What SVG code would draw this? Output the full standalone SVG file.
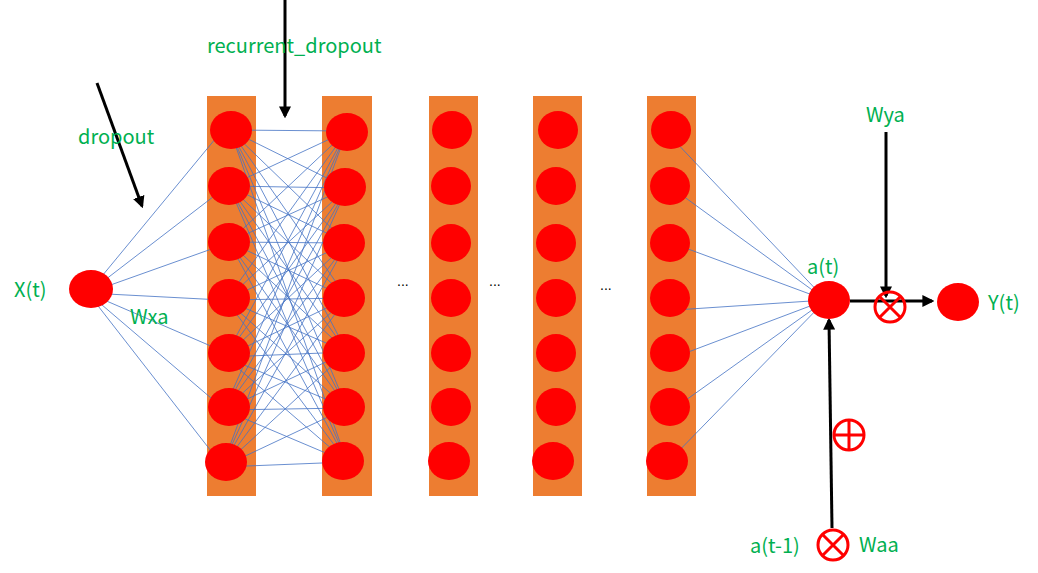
<svg xmlns="http://www.w3.org/2000/svg" width="1038" height="573" viewBox="0 0 1038 573">
<style>
.bar{fill:#ed7d31}
.n{fill:#ff0000}
.t{font-family:"Microsoft YaHei","Noto Sans CJK SC","Liberation Sans",sans-serif;font-size:20px;fill:#00b050}
.w{stroke:#4472c4;stroke-width:0.8;fill:none}
.k{stroke:#000;stroke-width:3;fill:none}
.op{fill:none;stroke:#ff0000;stroke-width:3}
</style>
<defs>
<marker id="ar" viewBox="0 0 10 10" refX="8" refY="5" markerWidth="4" markerHeight="4" orient="auto"><path d="M0,0L10,5L0,10z" fill="#000"/></marker>
</defs>
<rect class="bar" x="207" y="96" width="49" height="400"/>
<rect class="bar" x="322" y="96" width="50" height="400"/>
<rect class="bar" x="429" y="96" width="49" height="400"/>
<rect class="bar" x="533" y="96" width="49" height="400"/>
<rect class="bar" x="647" y="96" width="49" height="400"/>
<g id="connectors">
<g class="w">
<path d="M88,293L216,138M88,293L222,190M88,293L220,246M88,293L222,300M88,293L220,350M88,293L218,404M88,293L218,460"/>
<path d="M230,130L347,131M230,130L347,188M230,130L347,243M230,130L347,298M230,130L347,352M230,130L347,408M230,130L347,462
M229,186L347,131M229,186L347,188M229,186L347,243M229,186L347,298M229,186L347,352M229,186L347,408M229,186L347,462
M229,242L347,131M229,242L347,188M229,242L347,243M229,242L347,298M229,242L347,352M229,242L347,408M229,242L347,462
M226,300L347,131M226,300L347,188M226,300L347,243M226,300L347,298M226,300L347,352M226,300L347,408M226,300L347,462
M225,357L347,131M225,357L347,188M225,357L347,243M225,357L347,298M225,357L347,352M225,357L347,408M225,357L347,462
M224,410L347,131M224,410L347,188M224,410L347,243M224,410L347,298M224,410L347,352M224,410L347,408M224,410L347,462
M222,467L347,131M222,467L347,188M222,467L347,243M222,467L347,298M222,467L347,352M222,467L347,408M222,467L347,462"/>
<path d="M670,136L826,300M672,188L826,300M680,246L826,300M675,310L826,300M675,357L826,300M672,410L826,300M668,462L826,300"/>
</g>
<path class="k" d="M97,83L142,206" marker-end="url(#ar)"/>
<path class="k" d="M285,0L285,116" marker-end="url(#ar)"/>
<path class="k" d="M886,132L886,296" marker-end="url(#ar)"/>
<path class="k" d="M850,301L932,301" marker-end="url(#ar)"/>
<path class="k" d="M832,528L829,320" marker-end="url(#ar)"/>
</g>
<g id="col1"><ellipse class="n" cx="231" cy="130" rx="21" ry="19"/><ellipse class="n" cx="229" cy="186" rx="21" ry="19"/><ellipse class="n" cx="229" cy="242" rx="21" ry="19"/><ellipse class="n" cx="229" cy="298" rx="21" ry="19"/><ellipse class="n" cx="229" cy="353" rx="21" ry="19"/><ellipse class="n" cx="229" cy="407" rx="21" ry="19"/><ellipse class="n" cx="226" cy="462" rx="21" ry="19"/></g>
<g id="col2"><ellipse class="n" cx="347" cy="132" rx="21" ry="19"/><ellipse class="n" cx="345" cy="187" rx="21" ry="19"/><ellipse class="n" cx="344" cy="243" rx="21" ry="19"/><ellipse class="n" cx="344" cy="298" rx="21" ry="19"/><ellipse class="n" cx="344" cy="353" rx="21" ry="19"/><ellipse class="n" cx="344" cy="407" rx="21" ry="19"/><ellipse class="n" cx="343" cy="461" rx="21" ry="19"/></g>
<g id="col3"><ellipse class="n" cx="452" cy="130" rx="20" ry="19"/><ellipse class="n" cx="451" cy="186" rx="20" ry="19"/><ellipse class="n" cx="451" cy="243" rx="20" ry="19"/><ellipse class="n" cx="451" cy="298" rx="20" ry="19"/><ellipse class="n" cx="451" cy="353" rx="20" ry="19"/><ellipse class="n" cx="451" cy="407" rx="20" ry="19"/><ellipse class="n" cx="449" cy="461" rx="21" ry="19"/></g>
<g id="col4"><ellipse class="n" cx="558" cy="130" rx="20" ry="19"/><ellipse class="n" cx="556" cy="186" rx="20" ry="19"/><ellipse class="n" cx="556" cy="243" rx="20" ry="19"/><ellipse class="n" cx="556" cy="298" rx="20" ry="19"/><ellipse class="n" cx="556" cy="353" rx="20" ry="19"/><ellipse class="n" cx="556" cy="407" rx="20" ry="19"/><ellipse class="n" cx="553" cy="461" rx="21" ry="19"/></g>
<g id="col5"><ellipse class="n" cx="671" cy="130" rx="20" ry="19"/><ellipse class="n" cx="670" cy="186" rx="20" ry="19"/><ellipse class="n" cx="670" cy="243" rx="20" ry="19"/><ellipse class="n" cx="670" cy="298" rx="20" ry="19"/><ellipse class="n" cx="670" cy="353" rx="20" ry="19"/><ellipse class="n" cx="670" cy="407" rx="20" ry="19"/><ellipse class="n" cx="667" cy="461" rx="21" ry="19"/></g>
<g id="xt"><ellipse class="n" cx="91" cy="289" rx="22" ry="19"/><text class="t" x="14" y="297">X(t)</text></g>
<g id="at"><ellipse class="n" cx="829" cy="300" rx="21" ry="19"/><text class="t" x="807" y="274">a(t)</text></g>
<g id="yt"><ellipse class="n" cx="958" cy="302" rx="21" ry="19"/><text class="t" x="988" y="310">Y(t)</text></g>
<g id="mul1"><circle class="op" cx="890" cy="307" r="15"/><path class="op" d="M879,296L901,318M901,296L879,318"/></g>
<g id="add"><circle class="op" cx="849" cy="435" r="15"/><path class="op" d="M834,435H864M849,420V450"/></g>
<g id="mul2"><circle class="op" cx="833" cy="545" r="15"/><path class="op" d="M822,534L844,556M844,534L822,556"/></g>
<text class="t" x="78" y="144">dropout</text>
<text class="t" x="207" y="53">recurrent_dropout</text>
<text class="t" x="130" y="324">Wxa</text>
<text class="t" x="866" y="122">Wya</text>
<text class="t" x="750" y="553">a(t-1)</text>
<text class="t" x="859" y="552">Waa</text>
<text style="font-family:'Liberation Sans',sans-serif;font-size:14px" x="397" y="286">...</text>
<text style="font-family:'Liberation Sans',sans-serif;font-size:14px" x="489" y="286">...</text>
<text style="font-family:'Liberation Sans',sans-serif;font-size:14px" x="600" y="290">...</text>
</svg>
